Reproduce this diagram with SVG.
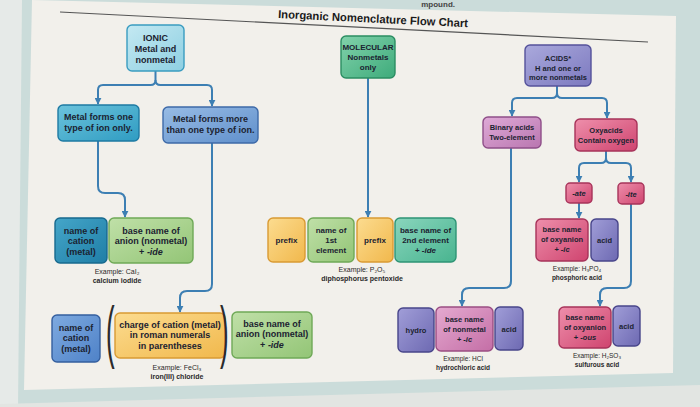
<svg xmlns="http://www.w3.org/2000/svg" width="700" height="407" viewBox="0 0 700 407">
<defs>
<style>
.t{font-family:"Liberation Sans",Arial,sans-serif;font-weight:bold;fill:#1b2230;text-anchor:middle}
.s9{font-size:9px}.s8{font-size:8px}.s75{font-size:7.5px}
.ex{font-family:"Liberation Sans",Arial,sans-serif;fill:#2a2a2a;text-anchor:middle}
.e7{font-size:7px}.e65{font-size:6.5px}
.n{font-weight:normal}.b{font-weight:bold}
.i{font-style:italic}
.box{stroke-width:1.4}
.con{fill:none;stroke:#3d7fb3;stroke-width:2}
.par{font-family:"Liberation Sans",Arial,sans-serif;font-size:26px;fill:#2b2b2b}
</style>
<marker id="ah" viewBox="0 0 10 10" refX="9" refY="5" markerWidth="7" markerHeight="7" markerUnits="userSpaceOnUse" orient="auto"><path d="M0,0 L10,5 L0,10 z" fill="#3d7fb3"/></marker>
<linearGradient id="gIon" x1="0" y1="0" x2="1" y2="1"><stop offset="0" stop-color="#c4e9f2"/><stop offset="1" stop-color="#8ecfe2"/></linearGradient>
<linearGradient id="gOne" x1="0" y1="0" x2="1" y2="1"><stop offset="0" stop-color="#6cc3dc"/><stop offset="1" stop-color="#2f9cc2"/></linearGradient>
<linearGradient id="gMore" x1="0" y1="0" x2="1" y2="1"><stop offset="0" stop-color="#98bce5"/><stop offset="1" stop-color="#5f8fcb"/></linearGradient>
<linearGradient id="gCatM" x1="0" y1="0" x2="1" y2="1"><stop offset="0" stop-color="#45a6c9"/><stop offset="1" stop-color="#1f7ea6"/></linearGradient>
<linearGradient id="gGreen" x1="0" y1="0" x2="1" y2="1"><stop offset="0" stop-color="#c0e0a8"/><stop offset="1" stop-color="#93c576"/></linearGradient>
<linearGradient id="gCatB" x1="0" y1="0" x2="1" y2="1"><stop offset="0" stop-color="#7eaae0"/><stop offset="1" stop-color="#4f82c8"/></linearGradient>
<linearGradient id="gYel" x1="0" y1="0" x2="1" y2="1"><stop offset="0" stop-color="#fcdc90"/><stop offset="1" stop-color="#f1b84c"/></linearGradient>
<linearGradient id="gMol" x1="0" y1="0" x2="1" y2="1"><stop offset="0" stop-color="#82d2ab"/><stop offset="1" stop-color="#3eab7b"/></linearGradient>
<linearGradient id="gTeal" x1="0" y1="0" x2="1" y2="1"><stop offset="0" stop-color="#8ad5bd"/><stop offset="1" stop-color="#48b48f"/></linearGradient>
<linearGradient id="gAcids" x1="0" y1="0" x2="1" y2="1"><stop offset="0" stop-color="#aaa9dc"/><stop offset="1" stop-color="#7c79bf"/></linearGradient>
<linearGradient id="gBin" x1="0" y1="0" x2="1" y2="1"><stop offset="0" stop-color="#dfaad7"/><stop offset="1" stop-color="#b976b0"/></linearGradient>
<linearGradient id="gRed" x1="0" y1="0" x2="1" y2="1"><stop offset="0" stop-color="#ee8fab"/><stop offset="1" stop-color="#cf446f"/></linearGradient>
<linearGradient id="gPur" x1="0" y1="0" x2="1" y2="1"><stop offset="0" stop-color="#a19ed8"/><stop offset="1" stop-color="#6d69b2"/></linearGradient>
<linearGradient id="gMauve" x1="0" y1="0" x2="1" y2="1"><stop offset="0" stop-color="#e5aad0"/><stop offset="1" stop-color="#c46ea6"/></linearGradient>
</defs>

<g id="background">
<rect width="700" height="407" fill="#cbdcda"/>
<polygon points="0,0 22,0 18,407 0,407" fill="#e6eae8"/>
<polygon points="0,404 700,385 700,407 0,407" fill="#e2e5e2"/>
<polygon points="32,0 676,16 673,373 24,390" fill="#f2f0eb"/>
<text x="455" y="7" text-anchor="end" font-family="Liberation Sans, Arial, sans-serif" font-size="8" font-weight="bold" fill="#444">mpound.</text>
<line x1="60" y1="12" x2="648" y2="42" stroke="#555" stroke-width="1.2"/>
<text x="278" y="18" transform="rotate(2.8 278 18)" font-family="Liberation Sans, Arial, sans-serif" font-weight="bold" font-size="11.5" fill="#1a1a1a" textLength="190" lengthAdjust="spacingAndGlyphs">Inorganic Nomenclature Flow Chart</text>
</g>

<g id="connectors">
<path class="con" marker-end="url(#ah)" d="M155.5,71 V80 Q155.5,85 150.5,85 H103 Q98,85 98,90 V104"/>
<path class="con" marker-end="url(#ah)" d="M155.5,80 Q155.5,85 160.5,85 H207 Q212,85 212,90 V106"/>
<path class="con" marker-end="url(#ah)" d="M98,141 V186 Q98,193 105,193 H118 Q125,193 125,200 V217"/>
<path class="con" marker-end="url(#ah)" d="M212,143 V284 Q212,291 205,291 H187 Q180,291 180,298 V312"/>
<path class="con" marker-end="url(#ah)" d="M368,78 V217"/>
<path class="con" marker-end="url(#ah)" d="M557,86 V93 Q557,98 552,98 H517 Q512,98 512,103 V116"/>
<path class="con" marker-end="url(#ah)" d="M557,93 Q557,98 562,98 H602 Q607,98 607,103 V118"/>
<path class="con" marker-end="url(#ah)" d="M511,148 V281 Q511,288 504,288 H469 Q462,288 462,295 V306"/>
<path class="con" marker-end="url(#ah)" d="M606,151 V158 Q606,163 601,163 H584 Q579,163 579,168 V182"/>
<path class="con" marker-end="url(#ah)" d="M606,158 Q606,163 611,163 H626 Q631,163 631,168 V182"/>
<path class="con" marker-end="url(#ah)" d="M579,203 V218"/>
<path class="con" marker-end="url(#ah)" d="M631,204 V281 Q631,288 624,288 H607 Q600,288 600,295 V306"/>
</g>

<g id="ionic">
<rect class="box" x="127" y="25" width="57" height="46" rx="5" fill="url(#gIon)" stroke="#3a9cc0"/>
<text class="t s9" x="155.5" y="41">IONIC</text>
<text class="t s9" x="155.5" y="52">Metal and</text>
<text class="t s9" x="155.5" y="63">nonmetal</text>
</g>
<g id="metal-one">
<rect class="box" x="58" y="105" width="81" height="36" rx="5" fill="url(#gOne)" stroke="#1e7aa3"/>
<text class="t s9" x="98.5" y="120">Metal forms one</text>
<text class="t s9" x="98.5" y="131">type of ion only.</text>
</g>
<g id="metal-more">
<rect class="box" x="163" y="107" width="95" height="36" rx="5" fill="url(#gMore)" stroke="#3e6aa8"/>
<text class="t s9" x="210.5" y="122">Metal forms more</text>
<text class="t s9" x="210.5" y="133">than one type of ion.</text>
</g>
<g id="cation-one">
<rect class="box" x="55" y="218" width="52" height="45" rx="5" fill="url(#gCatM)" stroke="#17698e"/>
<text class="t s9" x="81" y="233.5">name of</text>
<text class="t s9" x="81" y="244">cation</text>
<text class="t s9" x="81" y="254.5">(metal)</text>
</g>
<g id="anion-one">
<rect class="box" x="109" y="218" width="84" height="45" rx="5" fill="url(#gGreen)" stroke="#6fa957"/>
<text class="t s9" x="151" y="233.5">base name of</text>
<text class="t s9" x="151" y="244">anion (nonmetal)</text>
<text class="t s9" x="151" y="254.5">+ <tspan class="i">-ide</tspan></text>
<text class="ex e7 n" x="117" y="274">Example: CaI₂</text>
<text class="ex e7 b" x="117" y="283">calcium iodide</text>
</g>
<g id="cation-more">
<rect class="box" x="52" y="315" width="48" height="47" rx="5" fill="url(#gCatB)" stroke="#355f9f"/>
<text class="t s9" x="76" y="330.5">name of</text>
<text class="t s9" x="76" y="341">cation</text>
<text class="t s9" x="76" y="351.5">(metal)</text>
</g>
<g id="charge">
<rect class="box" x="115" y="313" width="110" height="45" rx="5" fill="url(#gYel)" stroke="#d99a33"/>
<text class="t s9" x="170" y="327.5">charge of cation (metal)</text>
<text class="t s9" x="170" y="338">in roman numerals</text>
<text class="t s9" x="170" y="348.5">in parentheses</text>
<text class="par" transform="translate(106,355) scale(1,2.65)">(</text>
<text class="par" transform="translate(220,355) scale(1,2.65)">)</text>
<text class="ex e7 n" x="177" y="370">Example: FeCl₃</text>
<text class="ex e7 b" x="177" y="379">iron(III) chloride</text>
</g>
<g id="anion-more">
<rect class="box" x="232" y="312" width="80" height="46" rx="5" fill="url(#gGreen)" stroke="#6fa957"/>
<text class="t s9" x="272" y="326.5">base name of</text>
<text class="t s9" x="272" y="337">anion (nonmetal)</text>
<text class="t s9" x="272" y="347.5">+ <tspan class="i">-ide</tspan></text>
</g>

<g id="molecular">
<rect class="box" x="341" y="36" width="54" height="42" rx="5" fill="url(#gMol)" stroke="#2b8d62"/>
<text class="t s8" x="368" y="50">MOLECULAR</text>
<text class="t s8" x="368" y="60">Nonmetals</text>
<text class="t s8" x="368" y="70">only</text>
</g>
<g id="prefix-1">
<rect class="box" x="268" y="218" width="37" height="44" rx="5" fill="url(#gYel)" stroke="#d99a33"/>
<text class="t s8" x="286.5" y="243">prefix</text>
</g>
<g id="first-element">
<rect class="box" x="308" y="218" width="46" height="44" rx="5" fill="url(#gGreen)" stroke="#6fa957"/>
<text class="t s8" x="331" y="233">name of</text>
<text class="t s8" x="331" y="243">1st</text>
<text class="t s8" x="331" y="253">element</text>
</g>
<g id="prefix-2">
<rect class="box" x="357" y="218" width="36" height="44" rx="5" fill="url(#gYel)" stroke="#d99a33"/>
<text class="t s8" x="375" y="243">prefix</text>
</g>
<g id="second-element">
<rect class="box" x="395" y="218" width="61" height="44" rx="5" fill="url(#gTeal)" stroke="#2e9475"/>
<text class="t s8" x="425.5" y="233">base name of</text>
<text class="t s8" x="425.5" y="243">2nd element</text>
<text class="t s8" x="425.5" y="253">+ <tspan class="i">-ide</tspan></text>
<text class="ex e7 n" x="362" y="272">Example: P₂O₅</text>
<text class="ex e7 b" x="362" y="281">diphosphorus pentoxide</text>
</g>

<g id="acids">
<rect class="box" x="525" y="45" width="66" height="41" rx="5" fill="url(#gAcids)" stroke="#55529b"/>
<text class="t s75" x="558" y="61">ACIDS*</text>
<text class="t s75" x="558" y="70.5">H and one or</text>
<text class="t s75" x="558" y="80">more nonmetals</text>
</g>
<g id="binary-acids">
<rect class="box" x="483" y="117" width="58" height="31" rx="5" fill="url(#gBin)" stroke="#8f4f89"/>
<text class="t s75" x="512" y="130">Binary acids</text>
<text class="t s75" x="512" y="140">Two-element</text>
</g>
<g id="oxyacids">
<rect class="box" x="575" y="119" width="62" height="32" rx="5" fill="url(#gRed)" stroke="#a7335a"/>
<text class="t s75" x="606" y="133">Oxyacids</text>
<text class="t s75" x="606" y="143">Contain oxygen</text>
</g>
<g id="ate">
<rect class="box" x="566" y="183" width="26" height="20" rx="4" fill="url(#gRed)" stroke="#a7335a"/>
<text class="t s75 i" x="579" y="196">-ate</text>
</g>
<g id="ite">
<rect class="box" x="618" y="183" width="26" height="21" rx="4" fill="url(#gRed)" stroke="#a7335a"/>
<text class="t s75 i" x="631" y="196.5">-ite</text>
</g>
<g id="oxyanion-ic">
<rect class="box" x="536" y="219" width="52" height="42" rx="5" fill="url(#gRed)" stroke="#a7335a"/>
<text class="t s75" x="562" y="232">base name</text>
<text class="t s75" x="562" y="242">of oxyanion</text>
<text class="t s75" x="562" y="252">+ <tspan class="i">-ic</tspan></text>
</g>
<g id="acid-ic">
<rect class="box" x="591" y="219" width="27" height="42" rx="5" fill="url(#gPur)" stroke="#48458a"/>
<text class="t s75" x="604.5" y="243">acid</text>
<text class="ex e65 n" x="577" y="271">Example: H₃PO₄</text>
<text class="ex e65 b" x="577" y="280">phosphoric acid</text>
</g>
<g id="hydro">
<rect class="box" x="398" y="308" width="36" height="44" rx="5" fill="url(#gPur)" stroke="#48458a"/>
<text class="t s75" x="416" y="333">hydro</text>
</g>
<g id="nonmetal-ic">
<rect class="box" x="436" y="307" width="57" height="44" rx="5" fill="url(#gMauve)" stroke="#9a4e83"/>
<text class="t s75" x="464.5" y="322">base name</text>
<text class="t s75" x="464.5" y="332">of nonmetal</text>
<text class="t s75" x="464.5" y="342">+ <tspan class="i">-ic</tspan></text>
</g>
<g id="acid-binary">
<rect class="box" x="495" y="307" width="28" height="43" rx="5" fill="url(#gPur)" stroke="#48458a"/>
<text class="t s75" x="509" y="331.5">acid</text>
<text class="ex e65 n" x="463" y="361">Example: HCl</text>
<text class="ex e65 b" x="463" y="370">hydrochloric acid</text>
</g>
<g id="oxyanion-ous">
<rect class="box" x="559" y="307" width="52" height="41" rx="5" fill="url(#gRed)" stroke="#a7335a"/>
<text class="t s75" x="585" y="320">base name</text>
<text class="t s75" x="585" y="330">of oxyanion</text>
<text class="t s75" x="585" y="340">+ <tspan class="i">-ous</tspan></text>
</g>
<g id="acid-ous">
<rect class="box" x="613" y="306" width="27" height="40" rx="5" fill="url(#gPur)" stroke="#48458a"/>
<text class="t s75" x="626.5" y="328.5">acid</text>
<text class="ex e65 n" x="597" y="358">Example: H₂SO₃</text>
<text class="ex e65 b" x="597" y="366.5">sulfurous acid</text>
</g>
</svg>
